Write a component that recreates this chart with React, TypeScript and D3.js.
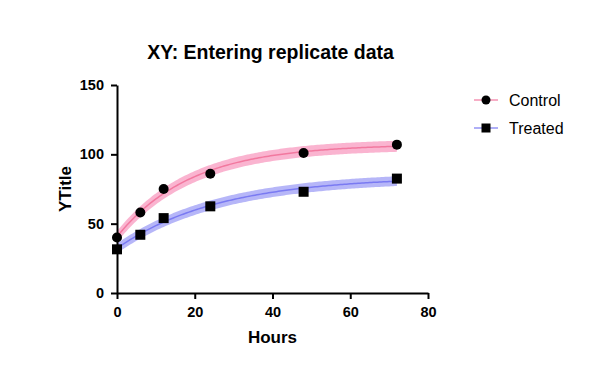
import React, { useRef, useEffect } from "react";
import * as d3 from "d3";

// replicate means
const hours = [0, 6, 12, 24, 48, 72];
const control = [40, 58, 75, 86, 101, 107];
const treated = [31.5, 42, 54, 62.5, 73, 82.5];
const seriesNames = ["Control", "Treated"];
const xTicks = [0, 20, 40, 60, 80];
const yTicks = [0, 50, 100, 150];
// half width of the shaded confidence band (y units)
const bandHalf = [4, 3.5];

const lineColors = ["#f2789f", "#7a7af2"];
const bandColors = ["#f9a7c8", "#a9a9f7"];

// one-phase association: y = y0*e^-kx + plateau*(1-e^-kx), least squares over k
function fitCurve(xs: number[], ys: number[]) {
  let best = { y0: 0, plateau: 0, k: 0, sse: Infinity };
  for (let k = 0.005; k <= 0.3; k += 0.0005) {
    let a11 = 0, a12 = 0, a22 = 0, b1 = 0, b2 = 0;
    xs.forEach((x, i) => {
      const e = Math.exp(-k * x);
      const u = 1 - e;
      a11 += e * e; a12 += e * u; a22 += u * u;
      b1 += e * ys[i]; b2 += u * ys[i];
    });
    const det = a11 * a22 - a12 * a12;
    const y0 = (b1 * a22 - b2 * a12) / det;
    const plateau = (a11 * b2 - a12 * b1) / det;
    let sse = 0;
    xs.forEach((x, i) => {
      const e = Math.exp(-k * x);
      const r = ys[i] - (y0 * e + plateau * (1 - e));
      sse += r * r;
    });
    if (sse < best.sse) best = { y0, plateau, k, sse };
  }
  return (x: number) => best.y0 * Math.exp(-best.k * x) + best.plateau * (1 - Math.exp(-best.k * x));
}

const Chart = () => {
  const svgRef = useRef<SVGSVGElement>(null);

  useEffect(() => {
    const svg = d3.select(svgRef.current);
    svg.selectAll("*").remove();

    const left = 117, right = 428, top = 85, bottom = 293;
    const x = d3.scaleLinear().domain([0, 80]).range([left, right]);
    const y = d3.scaleLinear().domain([0, 150]).range([bottom, top]);
    const font = "Arial, 'Liberation Sans', sans-serif";

    const series = [control, treated];
    const xsFine = d3.range(0, 72.01, 0.5);

    series.forEach((vals, si) => {
      const f = fitCurve(hours, vals);
      const area = d3
        .area<number>()
        .x((d) => x(d))
        .y0((d) => y(f(d) - bandHalf[si]))
        .y1((d) => y(f(d) + bandHalf[si]));
      svg.append("path").attr("d", area(xsFine)).attr("fill", bandColors[si]).attr("opacity", 0.85);
      const line = d3
        .line<number>()
        .x((d) => x(d))
        .y((d) => y(f(d)));
      svg.append("path").attr("d", line(xsFine)).attr("fill", "none").attr("stroke", lineColors[si]).attr("stroke-width", 1.5);
    });

    // axes
    const xAxis = svg
      .append("g")
      .attr("transform", `translate(0,${bottom})`)
      .call(d3.axisBottom(x).tickValues(xTicks).tickSize(6).tickSizeOuter(0));
    const yAxis = svg
      .append("g")
      .attr("transform", `translate(${left},0)`)
      .call(d3.axisLeft(y).tickValues(yTicks).tickSize(6).tickSizeOuter(0));
    [xAxis, yAxis].forEach((g) => {
      g.select(".domain").attr("stroke", "#000").attr("stroke-width", 2);
      g.selectAll(".tick line").attr("stroke", "#000").attr("stroke-width", 2);
      g.selectAll(".tick text")
        .attr("fill", "#000")
        .style("font-family", font)
        .style("font-size", "14.5px")
        .style("font-weight", "bold");
    });
    xAxis.selectAll(".tick text").attr("dy", "1.05em");
    yAxis.selectAll(".tick text").attr("x", -13);

    // points
    svg
      .append("g")
      .selectAll("circle")
      .data(control)
      .enter()
      .append("circle")
      .attr("cx", (d, i) => x(hours[i]))
      .attr("cy", (d) => y(d))
      .attr("r", 5)
      .attr("fill", "#000");
    svg
      .append("g")
      .selectAll("rect")
      .data(treated)
      .enter()
      .append("rect")
      .attr("x", (d, i) => x(hours[i]) - 5)
      .attr("y", (d) => y(d) - 5)
      .attr("width", 10)
      .attr("height", 10)
      .attr("fill", "#000");

    // titles
    svg
      .append("text")
      .attr("x", (left + right) / 2 - 2)
      .attr("y", 59)
      .attr("text-anchor", "middle")
      .style("font-family", font)
      .style("font-size", "19.5px")
      .style("font-weight", "bold")
      .text("XY: Entering replicate data");
    svg
      .append("text")
      .attr("x", (left + right) / 2)
      .attr("y", 343)
      .attr("text-anchor", "middle")
      .style("font-family", font)
      .style("font-size", "17px")
      .style("font-weight", "bold")
      .text("Hours");
    svg
      .append("text")
      .attr("transform", `translate(71,${(top + bottom) / 2}) rotate(-90)`)
      .attr("text-anchor", "middle")
      .style("font-family", font)
      .style("font-size", "17px")
      .style("font-weight", "bold")
      .text("YTitle");

    // legend
    const legend = svg
      .append("g")
      .selectAll("g")
      .data(seriesNames)
      .enter()
      .append("g")
      .attr("transform", (d, i) => `translate(474,${100 + i * 28})`);
    legend
      .append("line")
      .attr("x1", 0)
      .attr("x2", 24)
      .attr("stroke", (d, i) => lineColors[i])
      .attr("stroke-width", 1.2);
    legend.each(function (d, i) {
      const g = d3.select(this);
      if (i === 0) g.append("circle").attr("cx", 12).attr("r", 4.5).attr("fill", "#000");
      else g.append("rect").attr("x", 7.5).attr("y", -4.5).attr("width", 9).attr("height", 9).attr("fill", "#000");
    });
    legend
      .append("text")
      .attr("x", 35)
      .attr("y", 6)
      .style("font-family", font)
      .style("font-size", "16px")
      .text((d) => d);
  }, []);

  return <svg ref={svgRef} width={600} height={368} style={{ display: "block" }}></svg>;
};

export default function App() {
  return (
    <div style={{ margin: -8 }}>
      <Chart />
    </div>
  );
}
